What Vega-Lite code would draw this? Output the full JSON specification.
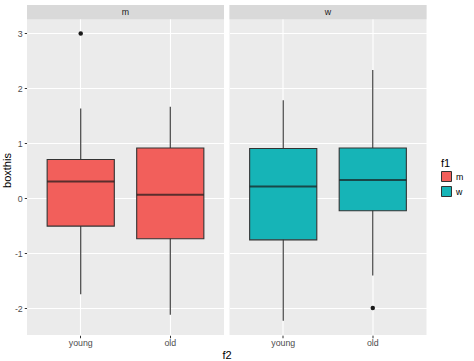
{
  "$schema": "https://vega.github.io/schema/vega-lite/v6.json",
  "background": "white",
  "padding": {"left": 1, "top": 5, "right": 0, "bottom": 0},
  "data": {"values": [
    {"f1": "m", "f2": "young", "lower": -1.75, "q1": -0.51, "median": 0.30, "q3": 0.70, "upper": 1.63},
    {"f1": "m", "f2": "old", "lower": -2.12, "q1": -0.74, "median": 0.06, "q3": 0.91, "upper": 1.66},
    {"f1": "w", "f2": "young", "lower": -2.23, "q1": -0.76, "median": 0.21, "q3": 0.90, "upper": 1.78},
    {"f1": "w", "f2": "old", "lower": -1.41, "q1": -0.23, "median": 0.33, "q3": 0.91, "upper": 2.33},
    {"f1": "m", "f2": "young", "outlier": 2.99},
    {"f1": "w", "f2": "old", "outlier": -2.0}
  ]},
  "facet": {"column": {"field": "f1", "type": "nominal",
    "header": {"title": "f2", "titleOrient": "bottom", "titleFontSize": 11, "titleFontWeight": "normal",
      "titleColor": "black", "titlePadding": -8, "titleBaseline": "top", "labels": false, "labelPadding": 0}}},
  "spacing": 5.5,
  "spec": {
    "width": 197,
    "height": 330,
    "encoding": {
      "x": {"field": "f2", "type": "nominal", "sort": ["young", "old"],
        "scale": {"paddingInner": 0.25, "paddingOuter": 0.225},
        "axis": {"title": null, "grid": true, "gridColor": "white", "gridWidth": 1.1, "bandPosition": 0.5,
          "tickSize": 2.75, "tickColor": "#333333", "domain": false, "labelColor": "#4D4D4D",
          "labelFontSize": 8.8, "labelPadding": 0.5, "labelAngle": 0}}
    },
    "layer": [
      {
        "transform": [{"filter": "datum.f2 === 'young' && isValid(datum.q1)"}],
        "mark": {"type": "rect", "fill": "#D9D9D9"},
        "encoding": {
          "x": null,
          "y": {"datum": 3.25, "type": "quantitative",
            "scale": {"domain": [-2.49, 3.51], "nice": false, "zero": false},
            "axis": {"title": "boxthis", "values": [-2, -1.5, -1, -0.5, 0, 0.5, 1, 1.5, 2, 2.5, 3],
              "labelExpr": "datum.value % 1 === 0 ? toString(datum.value) : ''",
              "grid": true, "gridColor": "white",
              "gridWidth": {"condition": {"test": "datum.value % 1 !== 0", "value": 0.55}, "value": 1.1},
              "tickSize": 2.75,
              "tickColor": {"condition": {"test": "datum.value % 1 !== 0", "value": "transparent"}, "value": "#333333"},
              "domain": false, "labelColor": "#4D4D4D", "labelFontSize": 8.8, "labelPadding": 2,
              "titleFontSize": 11, "titleFontWeight": "normal", "titleColor": "black", "titlePadding": 2}},
          "y2": {"datum": 3.51}
        }
      },
      {
        "transform": [{"filter": "datum.f2 === 'young' && isValid(datum.q1)"}],
        "mark": {"type": "text", "fontSize": 8.8, "color": "#1A1A1A", "baseline": "middle"},
        "encoding": {
          "x": null,
          "y": {"datum": 3.38, "type": "quantitative"},
          "text": {"field": "f1"}
        }
      },
      {
        "transform": [{"filter": "isValid(datum.q1)"}],
        "mark": {"type": "rule", "color": "#333333", "strokeWidth": 1.1},
        "encoding": {
          "y": {"field": "lower", "type": "quantitative"},
          "y2": {"field": "upper"}
        }
      },
      {
        "transform": [{"filter": "isValid(datum.q1)"}],
        "mark": {"type": "bar", "stroke": "#333333", "strokeWidth": 1.1},
        "encoding": {
          "y": {"field": "q1", "type": "quantitative"},
          "y2": {"field": "q3"},
          "fill": {"field": "f1", "type": "nominal",
            "scale": {"domain": ["m", "w"], "range": ["#F25F5B", "#16B4B7"]},
            "legend": {"title": "f1", "orient": "none", "legendX": 414, "legendY": 153,
              "symbolType": "square", "symbolSize": 100, "symbolOpacity": 1,
              "symbolStrokeColor": "#333333", "symbolStrokeWidth": 1,
              "titleFontSize": 11, "titleFontWeight": "normal", "titleColor": "black", "titlePadding": 2,
              "labelFontSize": 8.8, "labelColor": "black", "labelOffset": 4, "rowPadding": 0}}
        }
      },
      {
        "transform": [{"filter": "isValid(datum.q1)"}],
        "mark": {"type": "tick", "color": "#1A1A1A", "size": 67, "thickness": 2, "orient": "horizontal"},
        "encoding": {
          "y": {"field": "median", "type": "quantitative"}
        }
      },
      {
        "transform": [{"filter": "isValid(datum.outlier)"}],
        "mark": {"type": "point", "filled": true, "color": "#1A1A1A", "size": 20, "opacity": 1},
        "encoding": {
          "y": {"field": "outlier", "type": "quantitative"}
        }
      }
    ]
  },
  "config": {
    "font": "Liberation Sans",
    "view": {"fill": "#EBEBEB", "stroke": null}
  }
}
